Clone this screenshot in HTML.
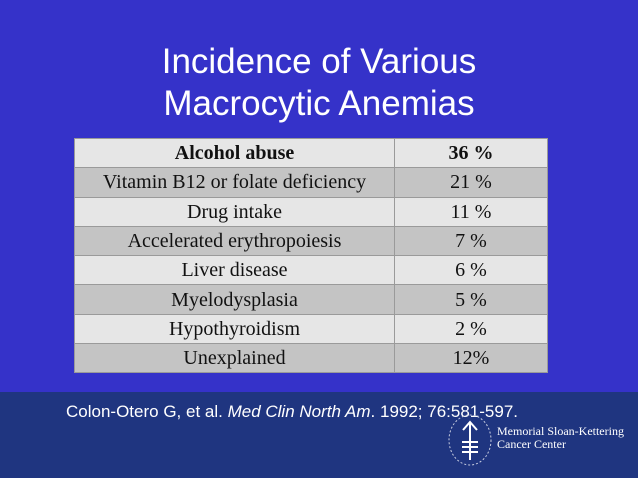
<!DOCTYPE html>
<html><head><meta charset="utf-8"><style>
body{margin:0;width:638px;height:478px;overflow:hidden;background:#3532c9;font-family:"Liberation Sans",sans-serif;position:relative}
.title{position:absolute;left:0;width:638px;text-align:center;color:#fff;font-size:35px;line-height:42px;top:41px}
table{position:absolute;left:74px;top:138px;width:474px;border-collapse:collapse;font-family:"Liberation Serif",serif;font-size:20px;color:#111}
td{height:28.3px;padding:0;text-align:center;border:1px solid #9a9a9a;line-height:20px}
tr:nth-child(odd) td{background:#e6e6e6}
tr:nth-child(even) td{background:#c4c4c4}
td:first-child{width:319px}
.band{position:absolute;left:0;top:392px;width:638px;height:86px;background:#1f3580}
.cite{position:absolute;left:66px;top:402px;color:#fff;font-size:17px}
.logo{position:absolute;left:497px;top:425px;color:#fff;font-family:"Liberation Serif",serif;font-size:12px;line-height:13px}
</style></head><body>
<div class="title">Incidence of Various<br>Macrocytic Anemias</div>
<table>
<tr><td style="font-weight:bold">Alcohol abuse</td><td style="font-weight:bold">36 %</td></tr>
<tr><td>Vitamin B12 or folate deficiency</td><td>21 %</td></tr>
<tr><td>Drug intake</td><td>11 %</td></tr>
<tr><td>Accelerated erythropoiesis</td><td>7 %</td></tr>
<tr><td>Liver disease</td><td>6 %</td></tr>
<tr><td>Myelodysplasia</td><td>5 %</td></tr>
<tr><td>Hypothyroidism</td><td>2 %</td></tr>
<tr><td>Unexplained</td><td>12%</td></tr>
</table>
<div class="band"></div>
<div class="cite">Colon-Otero G, et al. <i>Med Clin North Am</i>. 1992; 76:581-597.</div>
<svg style="position:absolute;left:446px;top:412px" width="50" height="56">
<ellipse cx="24" cy="28" rx="21" ry="25" fill="none" stroke="#c8cde0" stroke-width="1" stroke-dasharray="2 2"/>
<path d="M24 10 V48 M17 18 L24 10 L31 18 M16 30 H32 M16 35 H32 M16 40 H32" stroke="#fff" stroke-width="2" fill="none"/>
</svg>
<div class="logo">Memorial Sloan-Kettering<br>Cancer Center</div>
</body></html>
